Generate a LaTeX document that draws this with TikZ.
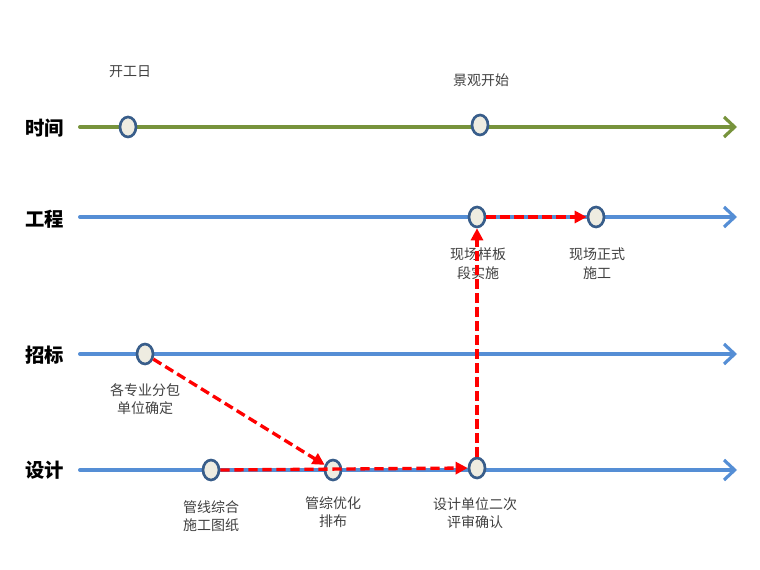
\documentclass[tikz,border=0pt]{standalone}
\usepackage{fontspec}
\setmainfont{Noto Sans CJK SC}
\usetikzlibrary{shapes.geometric,arrows.meta}
\definecolor{tgreen}{RGB}{119,147,60}
\definecolor{tblue}{RGB}{85,142,213}
\definecolor{ptfill}{RGB}{238,236,225}
\definecolor{ptedge}{RGB}{56,93,138}
\definecolor{txt}{RGB}{64,64,64}
\begin{document}
\begin{tikzpicture}[x=0.75pt,y=-0.75pt,
  rowlabel/.style={font=\bfseries\fontsize{14.5}{16}\selectfont,text=black},
  note/.style={font=\fontsize{10.5}{14}\selectfont,text=txt,align=center},
  pt/.style={ellipse,draw=ptedge,fill=ptfill,line width=2pt,minimum width=12pt,minimum height=15pt,inner sep=0pt},
  axisline/.style={line width=3pt,line cap=round,-{Straight Barb[length=8pt,width=15pt,line width=2.4pt]}},
  redarrow/.style={red,line width=2.5pt,dash pattern=on 7pt off 3.5pt,-{Triangle[length=9pt,width=9pt]}}]
\useasboundingbox (0,0) rectangle (760,570);
% row labels
\node[rowlabel] (lt) at (45,128) {时间};
\node[rowlabel] (lg) at (45,219) {工程};
\node[rowlabel] (lz) at (45,355) {招标};
\node[rowlabel] (ls) at (45,470) {设计};
% axis endpoints
\coordinate (ta) at (80,127); \coordinate (tb) at (737,127);
\coordinate (ga) at (80,217); \coordinate (gb) at (737,217);
\coordinate (za) at (80,354); \coordinate (zb) at (737,354);
\coordinate (sa) at (80,470); \coordinate (sb) at (737,470);
\draw[axisline,tgreen] (ta) -- (tb);
\draw[axisline,tblue] (ga) -- (gb);
\draw[axisline,tblue] (za) -- (zb);
\draw[axisline,tblue] (sa) -- (sb);
% points
\node[pt] (t1) at (128,127) {};
\node[pt] (t2) at (480,125) {};
\node[pt] (g1) at (477,217) {};
\node[pt] (g2) at (596,217) {};
\node[pt] (z1) at (145,354) {};
\node[pt] (s1) at (211,470) {};
\node[pt] (s2) at (333,470) {};
\node[pt] (s3) at (477,468) {};
% notes
\node[note] (n1) at (130,72) {开工日};
\node[note] (n2) at (481,80) {景观开始};
\node[note] (n3) at (478,264) {现场样板\\段实施};
\node[note] (n4) at (597,264) {现场正式\\施工};
\node[note] (n5) at (145,399) {各专业分包\\单位确定};
\node[note] (n6) at (211,516) {管线综合\\施工图纸};
\node[note] (n7) at (333,512) {管综优化\\排布};
\node[note] (n8) at (475,513) {设计单位二次\\评审确认};
% red arrows
\draw[redarrow] (z1) -- (s2);
\draw[redarrow] (s1.east) -- (s3.west);
\draw[redarrow] (s3.north) -- (g1.south);
\draw[redarrow] (g1.east) -- (g2.west);
\end{tikzpicture}
\end{document}
